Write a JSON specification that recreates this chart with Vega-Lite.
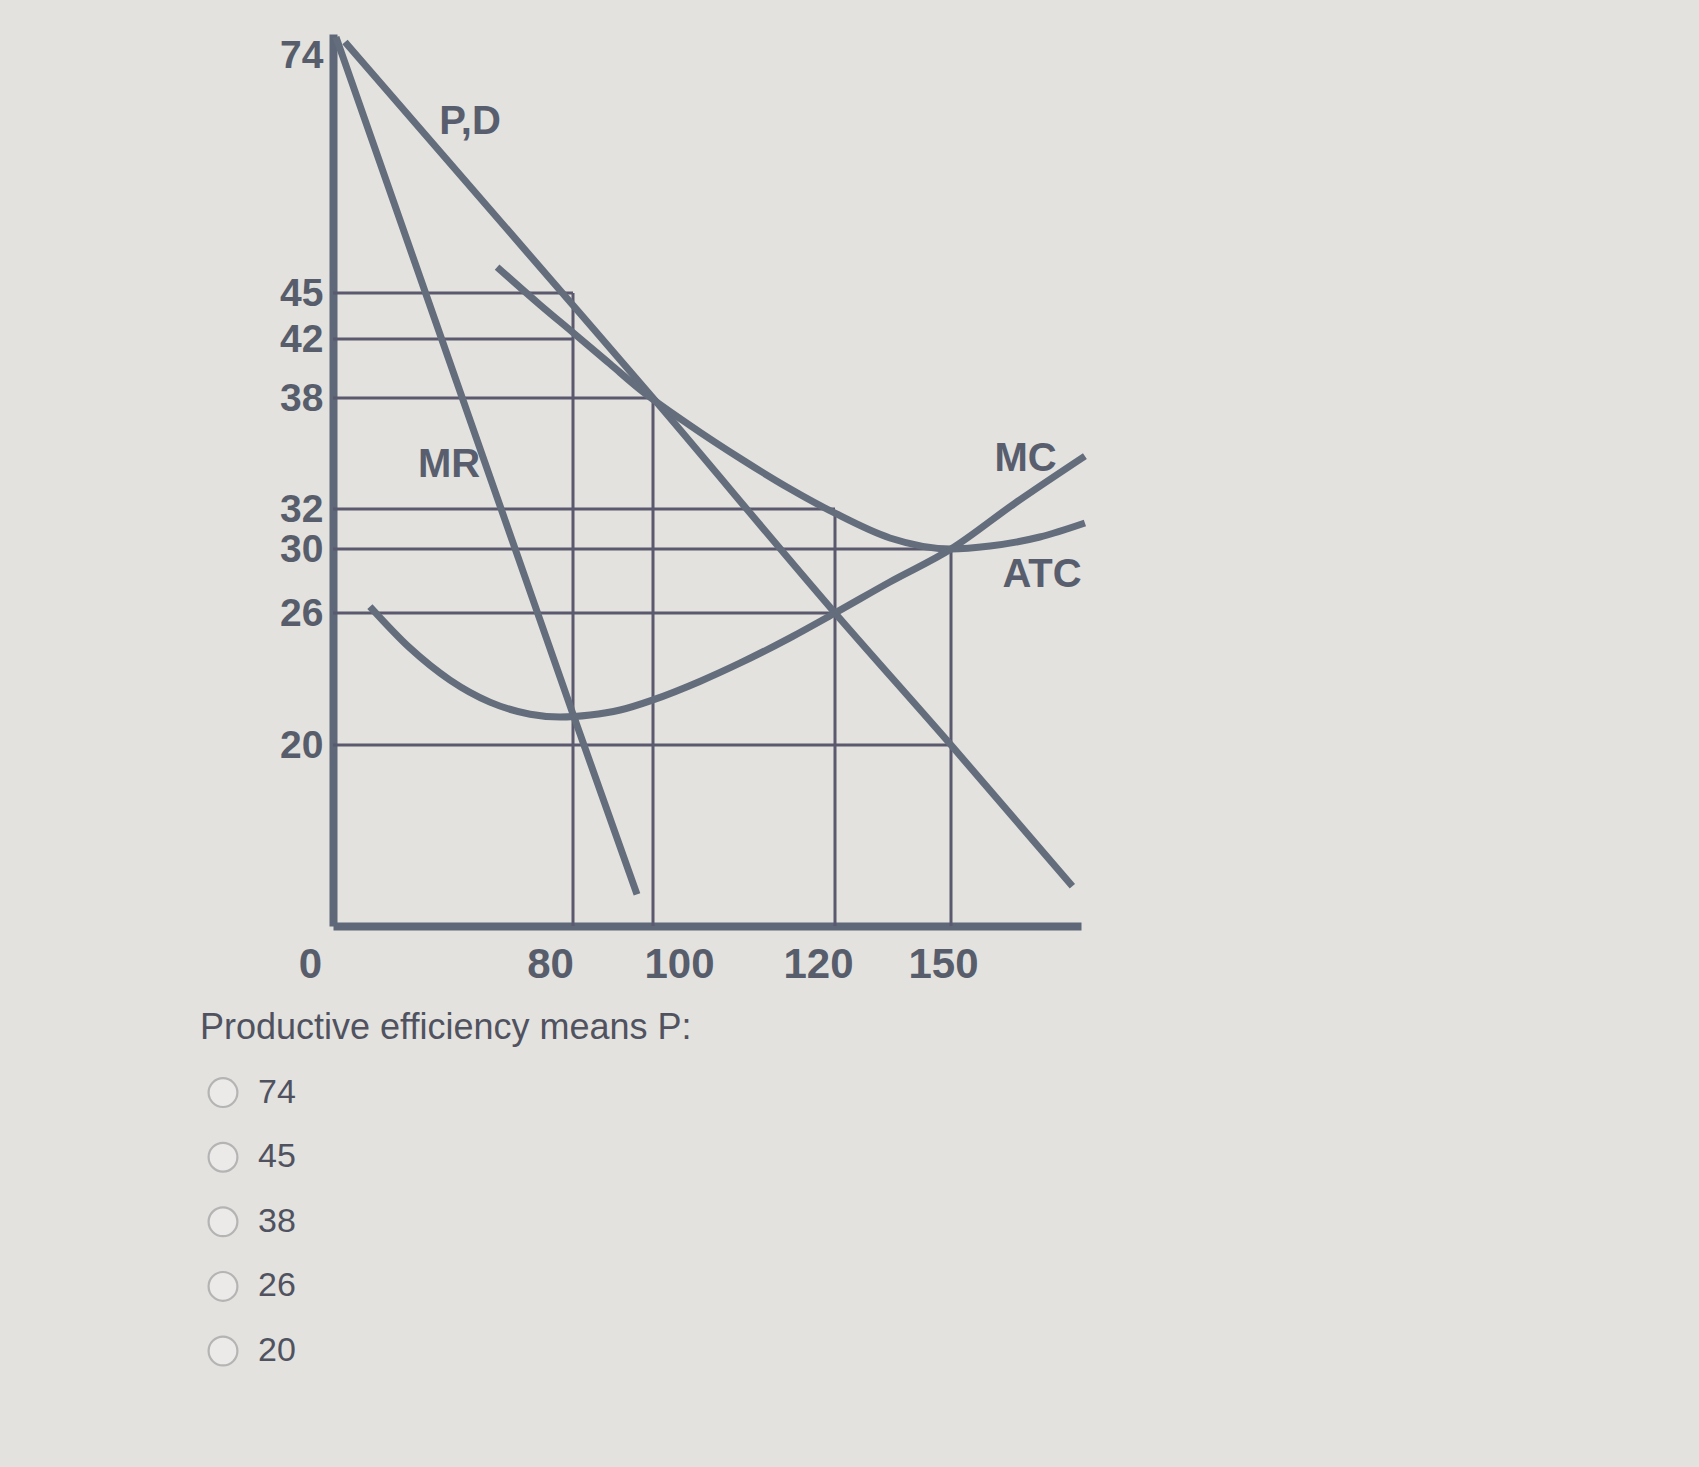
{
  "$schema": "https://vega.github.io/schema/vega-lite/v6.json",
  "width": 1366,
  "height": 1467,
  "padding": 0,
  "background": "#e3e2df",
  "config": {"view": {"stroke": null}, "font": "Liberation Sans"},
  "datasets": {
    "guides": [
      {"q": 0, "q2": 80, "p": 45, "p2": 45},
      {"q": 0, "q2": 80, "p": 42, "p2": 42},
      {"q": 0, "q2": 100, "p": 38, "p2": 38},
      {"q": 0, "q2": 120, "p": 32, "p2": 32},
      {"q": 0, "q2": 150, "p": 30, "p2": 30},
      {"q": 0, "q2": 120, "p": 26, "p2": 26},
      {"q": 0, "q2": 150, "p": 20, "p2": 20},
      {"q": 80, "q2": 80, "p": 0, "p2": 45},
      {"q": 100, "q2": 100, "p": 0, "p2": 38},
      {"q": 120, "q2": 120, "p": 0, "p2": 31.8},
      {"q": 150, "q2": 150, "p": 0, "p2": 30}
    ],
    "curves": [
      {"curve": "D", "q": 4, "p": 74},
      {"curve": "D", "q": 80, "p": 44.2},
      {"curve": "D", "q": 100, "p": 38},
      {"curve": "D", "q": 120, "p": 26},
      {"curve": "D", "q": 150, "p": 20},
      {"curve": "D", "q": 178, "p": 4.4},
      {"curve": "MR", "q": 1, "p": 74.6},
      {"curve": "MR", "q": 80, "p": 21.4},
      {"curve": "MR", "q": 96, "p": 3.5},
      {"curve": "MC", "q": 12.3, "p": 26.4},
      {"curve": "MC", "q": 25.7, "p": 24.4},
      {"curve": "MC", "q": 39, "p": 22.95},
      {"curve": "MC", "q": 52.3, "p": 21.95},
      {"curve": "MC", "q": 65.7, "p": 21.4},
      {"curve": "MC", "q": 75.7, "p": 21.27},
      {"curve": "MC", "q": 84.3, "p": 21.36},
      {"curve": "MC", "q": 91.8, "p": 21.59},
      {"curve": "MC", "q": 100, "p": 22.05},
      {"curve": "MC", "q": 105.2, "p": 22.9},
      {"curve": "MC", "q": 109.6, "p": 23.73},
      {"curve": "MC", "q": 115, "p": 24.86},
      {"curve": "MC", "q": 120, "p": 26},
      {"curve": "MC", "q": 134.2, "p": 27.94},
      {"curve": "MC", "q": 150, "p": 30},
      {"curve": "MC", "q": 164.8, "p": 32.32},
      {"curve": "MC", "q": 180.9, "p": 34.86},
      {"curve": "ATC", "q": 54.7, "p": 48},
      {"curve": "ATC", "q": 69, "p": 44.23},
      {"curve": "ATC", "q": 80, "p": 42.42},
      {"curve": "ATC", "q": 89.25, "p": 40.31},
      {"curve": "ATC", "q": 96.75, "p": 38.58},
      {"curve": "ATC", "q": 104.1, "p": 36.51},
      {"curve": "ATC", "q": 109.6, "p": 34.73},
      {"curve": "ATC", "q": 115, "p": 33.11},
      {"curve": "ATC", "q": 120, "p": 31.79},
      {"curve": "ATC", "q": 134.2, "p": 30.55},
      {"curve": "ATC", "q": 150, "p": 30},
      {"curve": "ATC", "q": 159, "p": 30.15},
      {"curve": "ATC", "q": 170.5, "p": 30.6},
      {"curve": "ATC", "q": 180.9, "p": 31.3}
    ],
    "curveLabels": [
      {"text": "P,D", "q": 45.7, "p": 64.8},
      {"text": "MR", "q": 38.7, "p": 34.4},
      {"text": "MC", "q": 167.2, "p": 34.7},
      {"text": "ATC", "q": 171, "p": 28.4}
    ],
    "question": [
      {"row": 0, "text": "Productive efficiency means P:"}
    ],
    "choices": [
      {"row": 1, "text": "74"},
      {"row": 2, "text": "45"},
      {"row": 3, "text": "38"},
      {"row": 4, "text": "26"},
      {"row": 5, "text": "20"}
    ]
  },
  "layer": [
    {
      "encoding": {
        "x": {
          "field": "q",
          "type": "quantitative",
          "scale": {"domain": [0, 80, 100, 120, 150, 180], "range": [0, 240, 320, 502, 618, 748], "zero": false, "nice": false},
          "axis": {
            "title": null,
            "values": [0, 80, 100, 120, 150],
            "grid": false,
            "ticks": false,
            "tickSize": 0,
            "offset": -541,
            "domainColor": "#5f6879",
            "domainWidth": 8,
            "labelFont": "Liberation Sans",
            "labelFontWeight": "bold",
            "labelFontSize": 42,
            "labelColor": "#575d6b",
            "labelPadding": 18,
            "labelOverlap": false,
            "labelFlush": false,
            "labelOffset": {
              "condition": [
                {"test": "datum.value == 0", "value": -23},
                {"test": "datum.value == 80", "value": -23},
                {"test": "datum.value == 100", "value": 26},
                {"test": "datum.value == 120", "value": -17},
                {"test": "datum.value == 150", "value": -8}
              ],
              "value": 0
            }
          }
        },
        "y": {
          "field": "p",
          "type": "quantitative",
          "scale": {"domain": [0, 20, 26, 30, 32, 38, 42, 45, 74, 75], "range": [926, 745, 613, 549, 509, 398, 339, 293, 42, 34], "zero": false, "nice": false},
          "axis": {
            "title": null,
            "values": [20, 26, 30, 32, 38, 42, 45, 74],
            "grid": false,
            "ticks": false,
            "tickSize": 0,
            "minExtent": 333,
            "maxExtent": 333,
            "domainColor": "#5f6879",
            "domainWidth": 8,
            "labelFont": "Liberation Sans",
            "labelFontWeight": "bold",
            "labelFontSize": 39,
            "labelColor": "#575d6b",
            "labelPadding": 10,
            "labelOverlap": false,
            "labelFlush": false,
            "labelOffset": {"condition": {"test": "datum.value == 74", "value": 13}, "value": 0}
          }
        }
      },
      "layer": [
        {
          "data": {"name": "guides"},
          "mark": {"type": "rule", "color": "#5a596e", "strokeWidth": 3},
          "encoding": {"x2": {"field": "q2"}, "y2": {"field": "p2"}}
        },
        {
          "data": {"name": "curves"},
          "mark": {"type": "line", "interpolate": "monotone", "color": "#646d7c", "strokeWidth": 7},
          "encoding": {"detail": {"field": "curve", "type": "nominal"}}
        },
        {
          "data": {"name": "curveLabels"},
          "mark": {"type": "text", "font": "Liberation Sans", "fontWeight": "bold", "fontSize": 40, "color": "#585e6d", "align": "center", "baseline": "middle"},
          "encoding": {"text": {"field": "text"}}
        }
      ]
    },
    {
      "layer": [
        {
          "data": {"name": "question"},
          "mark": {"type": "text", "font": "Liberation Sans", "fontSize": 36, "color": "#50535f", "align": "left", "baseline": "middle"},
          "encoding": {
            "x": {"datum": "question", "type": "nominal", "scale": {"type": "point", "domain": ["question", "radio"], "range": [-133, -110], "padding": 0}, "axis": null},
            "y": {"field": "row", "type": "ordinal", "scale": {"type": "point", "domain": [0, 1, 2, 3, 4, 5], "range": [1028, 1351], "padding": 0}, "axis": null},
            "text": {"field": "text"}
          }
        },
        {
          "data": {"name": "choices"},
          "mark": {"type": "point", "shape": "circle", "size": 830, "fill": "#ebeae8", "stroke": "#b4b4b4", "strokeWidth": 2.2, "opacity": 1},
          "encoding": {
            "x": {"datum": "radio", "type": "nominal", "scale": {"type": "point", "domain": ["question", "radio"], "range": [-133, -110], "padding": 0}, "axis": null},
            "y": {"field": "row", "type": "ordinal", "scale": {"type": "point", "domain": [0, 1, 2, 3, 4, 5], "range": [1028, 1351], "padding": 0}, "axis": null}
          }
        },
        {
          "data": {"name": "choices"},
          "mark": {"type": "text", "font": "Liberation Sans", "fontSize": 34, "color": "#50535f", "align": "left", "baseline": "middle", "dx": 35},
          "encoding": {
            "x": {"datum": "radio", "type": "nominal", "scale": {"type": "point", "domain": ["question", "radio"], "range": [-133, -110], "padding": 0}, "axis": null},
            "y": {"field": "row", "type": "ordinal", "scale": {"type": "point", "domain": [0, 1, 2, 3, 4, 5], "range": [1028, 1351], "padding": 0}, "axis": null},
            "text": {"field": "text"}
          }
        }
      ]
    }
  ],
  "resolve": {"scale": {"x": "independent", "y": "independent"}}
}
